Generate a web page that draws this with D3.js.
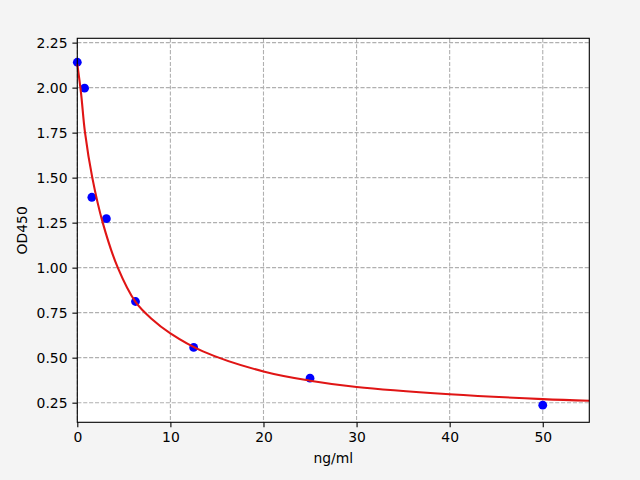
<!DOCTYPE html>
<html>
<head>
<meta charset="utf-8">
<script src="https://cdn.jsdelivr.net/npm/d3@7"></script>
<style>
  body { margin: 0; background: #f4f4f4; }
  svg { display: block; }
  .tick text { font-family: "DejaVu Sans", sans-serif; font-size: 13.9px; fill: #000; }
</style>
</head>
<body>
<div id="chart"></div>
<script>
// standard concentrations (ng/ml) and measured OD450
var concentrations = [0, 0.78, 1.56, 3.125, 6.25, 12.5, 25, 50];
var odValues = [2.141, 1.997, 1.391, 1.272, 0.812, 0.557, 0.386, 0.236];

// fitted curve
var curveX = [0, 0.4, 0.83, 1.61, 2.73, 4.35, 6.25, 8, 10, 13.5, 20, 25, 30, 40, 50, 55];
var curveY = [2.13, 1.97, 1.75, 1.50, 1.25, 1.00, 0.81, 0.715, 0.635, 0.535, 0.423, 0.372, 0.337, 0.297, 0.270, 0.261];

var xTicks = [0, 10, 20, 30, 40, 50];
var yTicks = [0.25, 0.50, 0.75, 1.00, 1.25, 1.50, 1.75, 2.00, 2.25];

var W = 640, H = 480;
var margin = {top: 38.3, right: 50.7, bottom: 57.7, left: 77.3},
    width = W - margin.left - margin.right,
    height = H - margin.top - margin.bottom;

var svg = d3.select("#chart")
    .append("svg")
    .attr("width", W)
    .attr("height", H);

svg.append("rect")
    .attr("width", W)
    .attr("height", H)
    .attr("fill", "#f4f4f4");

var g = svg.append("g")
    .attr("transform", "translate(" + margin.left + "," + margin.top + ")");

// Hintergrund der Achsen
g.append("rect")
    .attr("width", width)
    .attr("height", height)
    .attr("fill", "#ffffff");

var x = d3.scaleLinear()
    .domain([0, 55])
    .range([0, width]);

var y = d3.scaleLinear()
    .domain([0.141, 2.274])
    .range([height, 0]);

// grid
g.append("g")
    .selectAll("line.vgrid")
    .data(xTicks)
    .enter()
    .append("line")
    .attr("x1", function (d) { return x(d); })
    .attr("x2", function (d) { return x(d); })
    .attr("y1", 0)
    .attr("y2", height)
    .attr("stroke", "#b0b0b0")
    .attr("stroke-width", 1.1)
    .attr("stroke-dasharray", "4.1,1.8");

g.append("g")
    .selectAll("line.hgrid")
    .data(yTicks)
    .enter()
    .append("line")
    .attr("x1", 0)
    .attr("x2", width)
    .attr("y1", function (d) { return y(d); })
    .attr("y2", function (d) { return y(d); })
    .attr("stroke", "#b0b0b0")
    .attr("stroke-width", 1.1)
    .attr("stroke-dasharray", "4.1,1.8");

// points
g.append("g")
    .selectAll("circle")
    .data(concentrations)
    .enter()
    .append("circle")
    .attr("cx", function (d) { return x(d); })
    .attr("cy", function (d, i) { return y(odValues[i]); })
    .attr("r", 4.4)
    .attr("fill", "#0000ff");

// fitted curve
var line = d3.line()
    .x(function (d) { return x(d); })
    .y(function (d, i) { return y(curveY[i]); })
    .curve(d3.curveCatmullRom.alpha(0.5));

g.append("path")
    .datum(curveX)
    .attr("d", line)
    .attr("fill", "none")
    .attr("stroke", "#e01515")
    .attr("stroke-width", 2.1);

// axes
var xAxis = g.append("g")
    .attr("transform", "translate(0," + height + ")")
    .call(d3.axisBottom(x).tickValues(xTicks).tickSize(4.9).tickPadding(4.6).tickFormat(d3.format("d")));

var yAxis = g.append("g")
    .call(d3.axisLeft(y).tickValues(yTicks).tickSize(4.9).tickPadding(4.9).tickFormat(d3.format(".2f")));

[xAxis, yAxis].forEach(function (a) {
    a.select(".domain").remove();
    a.selectAll(".tick line").attr("stroke", "#000").attr("stroke-width", 1.1);
});

// spines
g.append("rect")
    .attr("width", width)
    .attr("height", height)
    .attr("fill", "none")
    .attr("stroke", "#000")
    .attr("stroke-width", 1.1);

// labels
svg.append("text")
    .attr("x", margin.left + width / 2)
    .attr("y", 463)
    .attr("text-anchor", "middle")
    .attr("font-family", "DejaVu Sans, sans-serif")
    .attr("font-size", "13.9px")
    .text("ng/ml");

svg.append("text")
    .attr("transform", "translate(22," + (margin.top + height / 2) + ") rotate(-90)")
    .attr("text-anchor", "middle")
    .attr("dominant-baseline", "central")
    .attr("font-family", "DejaVu Sans, sans-serif")
    .attr("font-size", "13.9px")
    .text("OD450");
</script>
</body>
</html>
